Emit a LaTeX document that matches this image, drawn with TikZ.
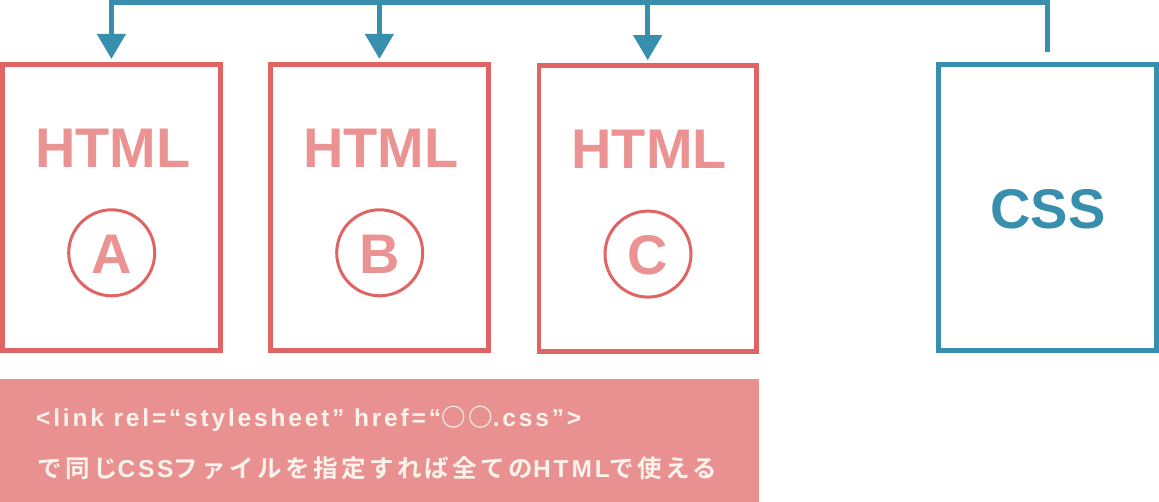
\documentclass[tikz,border=0pt]{standalone}
\usepackage{fontspec}
\setmainfont{Liberation Sans}
\newfontfamily\jpfont{Noto Sans CJK JP Bold}[LetterSpace=14]
\newfontfamily\jpsymfont{Noto Sans CJK JP}[LetterSpace=11.5]
\newfontfamily\notefont{Liberation Sans}[LetterSpace=11.5]
\usepackage{xcolor}
\usepackage{tikz}
\usetikzlibrary{positioning}
\usetikzlibrary{arrows.meta}
\definecolor{htmlred}{RGB}{224,100,100}
\definecolor{htmlpink}{RGB}{235,147,147}
\definecolor{cssblue}{RGB}{56,142,173}
\definecolor{notefill}{RGB}{233,145,145}
\definecolor{notetext}{RGB}{250,243,235}
\tikzstyle{page}=[rectangle,draw,line width=4.7pt,minimum width=217.5pt,minimum height=286pt,inner sep=0pt]
\tikzstyle{htmlpage}=[page,draw=htmlred]
\tikzstyle{csspage}=[page,draw=cssblue]
\tikzstyle{title}=[font=\bfseries\fontsize{55.9}{60}\selectfont,anchor=base,inner sep=0pt]
\tikzstyle{letterring}=[circle,draw=htmlred,line width=3pt,minimum size=86pt,inner sep=0pt]
\tikzstyle{link} = [draw=cssblue,line width=4.7pt]
\tikzstyle{linkarrow} = [link,-{Triangle[length=25pt,width=28pt]}]
\tikzstyle{notebox} = [rectangle,fill=notefill,minimum width=758.7pt,minimum height=122.7pt,inner sep=0pt]
\tikzset{noteline/.style={font=\fontsize{24.5}{28}\selectfont,text=notetext,anchor=base west,inner sep=0pt}}

\begin{document}
\begin{tikzpicture}[x=1pt,y=-1pt]

  \useasboundingbox (0,0) rectangle (1159,502);

   \foreach \x/\y/\name/\label in {111.4/207.3/A/A, 379.4/207.3/B/B, 647.7/208.6/C/C} {
          \node[htmlpage] (\name) at (\x,\y) {};
          \node[title,text=htmlpink] (t\name) at (\x+1.5,\y-39.8) {HTML};
          \node[letterring] (r\name) at (\x+0.3,\y+45.5) {};
          \node[title,text=htmlpink] (l\name) at (\x+0.3,\y+66) {\label};
   }

   \node[csspage] (css) at (1047.5,207.2) {};
   \node[title,text=cssblue] (tcss) at (1048,228.3) {CSS};

%links
   \coordinate (bus) at (0,2.4);
   \draw[linkarrow] ([yshift=9.7pt]css.north) |- (A.north |- bus) -- ([yshift=3pt]A.north);
   \foreach \name in {B,C}
          \draw[linkarrow] (\name.north |- bus) -- ([yshift=3pt]\name.north);

%note
   \node[notebox] (note) at (379.35,440.65) {};
   \node[noteline] (line1) at (36,426.7) {\notefont\bfseries <link rel=“stylesheet” href=“{\jpsymfont ○○}.css”>};
   \node[noteline] (line2) at (37,477.5) {{\jpfont で同じ}{\notefont\bfseries CSS}{\jpfont ファイルを指定すれば全ての}{\notefont\bfseries HTML}{\jpfont で使える}};

\end{tikzpicture}
\end{document}
